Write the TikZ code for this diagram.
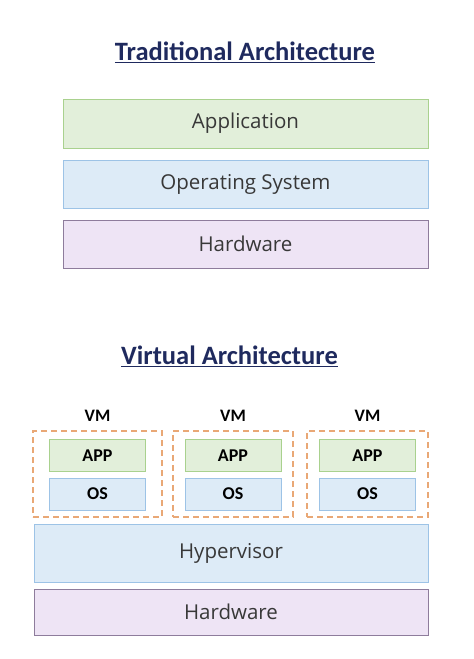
\documentclass[tikz,border=0pt]{standalone}
\usepackage{fontspec}
\setmainfont{Carlito}
\newfontfamily\layerfont{Open Sans}
\definecolor{titleblue}{HTML}{1F2A5E}
\definecolor{appfill}{HTML}{E2EFDA}
\definecolor{appline}{HTML}{A9D18E}
\definecolor{osfill}{HTML}{DDEBF7}
\definecolor{osline}{HTML}{9DC3E6}
\definecolor{hwfill}{HTML}{EEE4F5}
\definecolor{hwline}{HTML}{8E7C9C}
\definecolor{vmline}{HTML}{E9A876}
\definecolor{layertext}{HTML}{383838}
\tikzset{
  heading/.style={font=\bfseries\fontsize{26.5}{30}\selectfont, text=titleblue},
  layer/.style={draw, line width=1pt, inner sep=0pt, outer sep=0pt,
    font=\layerfont\fontsize{20.5}{24}\selectfont, text=layertext},
  small/.style={draw, line width=1pt, inner sep=0pt, outer sep=0pt,
    minimum width=96pt, minimum height=32pt,
    font=\bfseries\fontsize{18}{21}\selectfont},
  vmbox/.style={draw=vmline, line width=1.2pt, dash pattern=on 6pt off 4pt,
    minimum height=86pt, inner sep=0pt},
  vmlabel/.style={font=\bfseries\fontsize{17.5}{20}\selectfont}
}
\begin{document}
\begin{tikzpicture}[x=1pt, y=-1pt]
  \useasboundingbox (0,0) rectangle (474,659);
  % traditional stack
  \node [heading] (trad) at (245,52) {\underline{Traditional Architecture}};
  \node [layer, fill=appfill, draw=appline, minimum width=365pt, minimum height=49pt] (app) at (245.5,123.5) {Application};
  \node [layer, fill=osfill, draw=osline, minimum width=365pt, minimum height=48pt] (os) at (245.5,184) {Operating System};
  \node [layer, fill=hwfill, draw=hwline, minimum width=365pt, minimum height=48pt] (hw) at (245.5,244) {Hardware};
  % virtual stack
  \node [heading] (virt) at (229.5,356) {\underline{Virtual Architecture}};
  \foreach \cx/\w [count=\i] in {97.5/129, 233/120, 367.5/121} {
    \node [vmbox, minimum width=\w pt] (vm\i) at (\cx,474) {};
    \node [vmlabel] (vmname\i) at (\cx,416) {VM};
    \node [small, fill=appfill, draw=appline] (vmapp\i) at (\cx,455.5) {APP};
    \node [small, fill=osfill, draw=osline] (vmos\i) at (\cx,494) {OS};
  }
  \node [layer, fill=osfill, draw=osline, minimum width=394pt, minimum height=58pt] (hyp) at (231,553) {Hypervisor};
  \node [layer, fill=hwfill, draw=hwline, minimum width=394pt, minimum height=46pt] (hw2) at (231,612) {Hardware};
\end{tikzpicture}
\end{document}
